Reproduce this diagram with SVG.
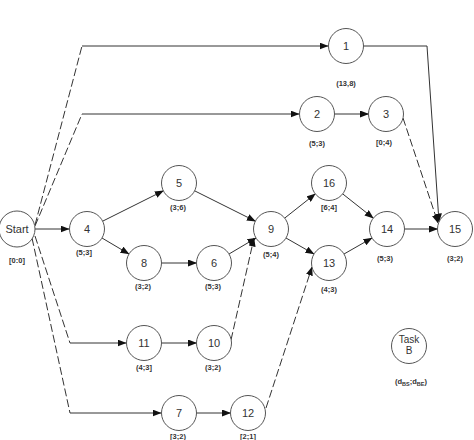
<svg xmlns="http://www.w3.org/2000/svg" width="474" height="440" viewBox="0 0 474 440">
<defs>
<marker id="arr" markerWidth="9" markerHeight="7" refX="8.5" refY="3.5" orient="auto" markerUnits="userSpaceOnUse">
<path d="M0,0 L9,3.5 L0,7 Z" fill="#111"/>
</marker>
<style>
.n{fill:#fff;stroke:#555;stroke-width:1}
.t{font-family:"Liberation Sans",Arial,sans-serif;font-size:11px;fill:#333;text-anchor:middle}
.l{font-family:"Liberation Sans",Arial,sans-serif;font-size:7.5px;font-weight:bold;fill:#333;text-anchor:middle}
.e{fill:none;stroke:#333;stroke-width:1}
.d{fill:none;stroke:#333;stroke-width:1;stroke-dasharray:8 3}
</style>
</defs>
<rect width="474" height="440" fill="#fff"/>
<g id="connectors">
<path class="d" d="M35,225 L82,46"/>
<path class="e" d="M82,46 L328,46" marker-end="url(#arr)"/>
<path class="d" d="M35,226 L82,114"/>
<path class="e" d="M82,114 L299,114" marker-end="url(#arr)"/>
<path class="e" d="M35,229 L69,229" marker-end="url(#arr)"/>
<path class="d" d="M35,236 L70,343"/>
<path class="e" d="M70,343 L126,343" marker-end="url(#arr)"/>
<path class="d" d="M32,238 L70,413"/>
<path class="e" d="M70,413 L161,413" marker-end="url(#arr)"/>
<path class="e" d="M102.6,221.2 L163.4,190.8" marker-end="url(#arr)"/>
<path class="e" d="M102,238 L129,254" marker-end="url(#arr)"/>
<path class="e" d="M161.5,263 L196.5,263" marker-end="url(#arr)"/>
<path class="e" d="M194.6,190.8 L255.4,221.2" marker-end="url(#arr)"/>
<path class="e" d="M229,254 L256,238" marker-end="url(#arr)"/>
<path class="e" d="M284.7,218.1 L315.3,193.9" marker-end="url(#arr)"/>
<path class="e" d="M286,238 L314,254" marker-end="url(#arr)"/>
<path class="e" d="M342.7,193.9 L373.3,218.1" marker-end="url(#arr)"/>
<path class="e" d="M344,254 L372,238" marker-end="url(#arr)"/>
<path class="e" d="M404.5,229 L437.5,229" marker-end="url(#arr)"/>
<path class="e" d="M334.5,114 L368.5,114" marker-end="url(#arr)"/>
<path class="e" d="M161.5,343 L196.5,343" marker-end="url(#arr)"/>
<path class="d" d="M231,340 L254,238" marker-end="url(#arr)"/>
<path class="e" d="M196.5,413 L230.5,413" marker-end="url(#arr)"/>
<path class="d" d="M266,408 L312,267" marker-end="url(#arr)"/>
<path class="e" d="M363.5,46 L427,46 L439,222" marker-end="url(#arr)"/>
<path class="d" d="M403,118 L438,223" marker-end="url(#arr)"/>
</g>
<g id="node-start"><circle class="n" cx="17" cy="229" r="18"/><text class="t" x="17" y="233">Start</text><text class="l" x="17" y="263">[0:0]</text></g>
<g id="node-1"><circle class="n" cx="346" cy="46" r="17.5"/><text class="t" x="346" y="50">1</text><text class="l" x="346" y="86">(13,8)</text></g>
<g id="node-2"><circle class="n" cx="317" cy="114" r="17.5"/><text class="t" x="317" y="118">2</text><text class="l" x="317" y="146">(5;3)</text></g>
<g id="node-3"><circle class="n" cx="386" cy="114" r="17.5"/><text class="t" x="386" y="118">3</text><text class="l" x="384" y="145">[0;4)</text></g>
<g id="node-4"><circle class="n" cx="87" cy="229" r="17.5"/><text class="t" x="87" y="233">4</text><text class="l" x="84" y="255">(5;3]</text></g>
<g id="node-5"><circle class="n" cx="179" cy="183" r="17.5"/><text class="t" x="179" y="187">5</text><text class="l" x="178" y="210">(3;6)</text></g>
<g id="node-8"><circle class="n" cx="144" cy="263" r="17.5"/><text class="t" x="144" y="267">8</text><text class="l" x="143" y="289">(3;2)</text></g>
<g id="node-6"><circle class="n" cx="214" cy="263" r="17.5"/><text class="t" x="214" y="267">6</text><text class="l" x="213" y="289">(5;3)</text></g>
<g id="node-9"><circle class="n" cx="271" cy="229" r="17.5"/><text class="t" x="271" y="233">9</text><text class="l" x="271" y="257">(5;4)</text></g>
<g id="node-16"><circle class="n" cx="329" cy="183" r="17.5"/><text class="t" x="329" y="187">16</text><text class="l" x="329" y="210">[6;4]</text></g>
<g id="node-13"><circle class="n" cx="329" cy="263" r="17.5"/><text class="t" x="329" y="267">13</text><text class="l" x="329" y="292">(4;3)</text></g>
<g id="node-14"><circle class="n" cx="387" cy="229" r="17.5"/><text class="t" x="387" y="233">14</text><text class="l" x="385" y="261">(5;3)</text></g>
<g id="node-15"><circle class="n" cx="455" cy="229" r="17.5"/><text class="t" x="455" y="233">15</text><text class="l" x="455" y="261">(3;2)</text></g>
<g id="node-11"><circle class="n" cx="144" cy="343" r="17.5"/><text class="t" x="144" y="347">11</text><text class="l" x="144" y="370">(4;3]</text></g>
<g id="node-10"><circle class="n" cx="214" cy="343" r="17.5"/><text class="t" x="214" y="347">10</text><text class="l" x="213" y="370">(3;2)</text></g>
<g id="node-7"><circle class="n" cx="179" cy="413" r="17.5"/><text class="t" x="179" y="417">7</text><text class="l" x="178" y="439">[3;2)</text></g>
<g id="node-12"><circle class="n" cx="248" cy="413" r="17.5"/><text class="t" x="248" y="417">12</text><text class="l" x="248" y="439">[2;1]</text></g>
<g id="legend"><circle class="n" cx="409" cy="346" r="17.5"/><text class="t" x="409" y="343" style="font-size:10px">Task</text><text class="t" x="409" y="354" style="font-size:10px">B</text><text class="l" x="411" y="384">(d<tspan font-size="5.5" dy="1.5">BS</tspan><tspan dy="-1.5">;d</tspan><tspan font-size="5.5" dy="1.5">BE</tspan><tspan dy="-1.5">)</tspan></text></g>
</svg>
